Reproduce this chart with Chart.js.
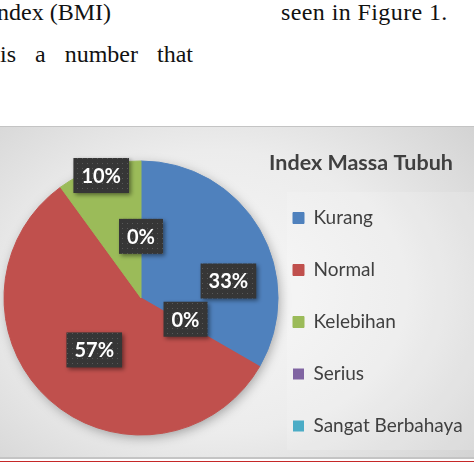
<!DOCTYPE html>
<html lang="id">
<head>
    <meta charset="UTF-8">
    <meta name="viewport" content="width=device-width, initial-scale=1.0">
    <title>Index Massa Tubuh</title>
    <script src="https://cdn.jsdelivr.net/npm/chart.js"></script>
    <style>
        html, body {
            margin: 0;
            padding: 0;
            width: 474px;
            height: 474px;
            overflow: hidden;
            background: #fff;
        }
        /* scanned page text above the figure */
        .doc {
            position: absolute;
            font-family: "Liberation Serif", "Times New Roman", serif;
            font-size: 24px;
            line-height: 24px;
            color: #111;
            white-space: nowrap;
        }
        #line1a { left: -11px; top: 0; }
        #line1b { left: 281px; top: 0; letter-spacing: 0.4px; }
        #line2 { left: 0; top: 42px; word-spacing: 13px; }
        .panel {
            position: absolute;
            left: 0;
            top: 126px;
            width: 474px;
            height: 330px;
            border-top: 1px solid #c4c4c4;
            border-bottom: 2px solid #c4c4c4;
            background: radial-gradient(ellipse 72% 78% at 45% 50%, #f7f7f7 0%, #ececec 55%, #d3d3d3 100%);
        }
        .legend-bg {
            position: absolute;
            left: 287px;
            top: 192px;
            width: 187px;
            height: 258px;
            background: rgba(255, 255, 255, 0.15);
        }
        .redline {
            position: absolute;
            left: 0;
            top: 461px;
            width: 474px;
            height: 1px;
            background: #c62828;
        }
        #bmiChart {
            position: absolute;
            left: 0;
            top: 126px;
        }
    </style>
</head>
<body>
<div class="doc" id="line1a">Index (BMI)</div>
<div class="doc" id="line1b">seen in Figure 1.</div>
<div class="doc" id="line2">is a number that</div>
<div class="panel"></div>
<div class="legend-bg"></div>
<div class="redline"></div>
<canvas id="bmiChart" width="474" height="360"></canvas>

<script>
    const categories = ['Kurang', 'Normal', 'Kelebihan', 'Serius', 'Sangat Berbahaya'];
    const counts = [10, 17, 3, 0, 0];
    const sliceColors = ['#4f81bd', '#c0504d', '#9bbb59', '#8064a2', '#4bacc6'];
    const legendTitle = 'Index Massa Tubuh';

    // where each label box sits: share of the radius, and a turn (deg) away from the slice middle
    const labelSpots = [
        { r: 0.65, turn: 19 },
        { r: 0.51, turn: 0 },
        { r: 0.94, turn: 0 },
        { r: 0.45, turn: 0 },
        { r: 0.36, turn: 115.5 }
    ];

    // soft shadow under the whole pie
    const pieShadow = {
        id: 'pieShadow',
        beforeDatasetsDraw(chart) {
            const arc = chart.getDatasetMeta(0).data[0];
            if (!arc) return;
            const ctx = chart.ctx;
            ctx.save();
            ctx.shadowColor = 'rgba(0, 0, 0, 0.35)';
            ctx.shadowBlur = 12;
            ctx.shadowOffsetX = 2;
            ctx.shadowOffsetY = 3;
            ctx.fillStyle = '#8a8a8a';
            ctx.beginPath();
            ctx.arc(arc.x, arc.y, arc.outerRadius - 1, 0, Math.PI * 2);
            ctx.fill();
            ctx.restore();
        }
    };

    function dotPattern(ctx) {
        const c = document.createElement('canvas');
        c.width = 5;
        c.height = 5;
        const g = c.getContext('2d');
        g.fillStyle = '#363636';
        g.fillRect(0, 0, 5, 5);
        g.fillStyle = '#585858';
        g.fillRect(2, 2, 1, 1);
        return ctx.createPattern(c, 'repeat');
    }

    // dark percent boxes (no datalabels plugin available)
    const boxLabels = {
        id: 'boxLabels',
        afterDatasetsDraw(chart) {
            const ctx = chart.ctx;
            const meta = chart.getDatasetMeta(0);
            const total = counts.reduce((a, b) => a + b, 0);
            const fill = dotPattern(ctx);
            ctx.save();
            ctx.font = 'bold 20px Lato';
            ctx.textAlign = 'center';
            ctx.textBaseline = 'middle';
            meta.data.forEach((arc, i) => {
                const spot = labelSpots[i];
                const a = (arc.startAngle + arc.endAngle) / 2 + spot.turn * Math.PI / 180;
                const cx = arc.x + Math.cos(a) * arc.outerRadius * spot.r;
                const cy = arc.y + Math.sin(a) * arc.outerRadius * spot.r;
                const text = Math.round(counts[i] / total * 100) + '%';
                const w = ctx.measureText(text).width + 16;
                const h = 35;
                ctx.save();
                ctx.shadowColor = 'rgba(0, 0, 0, 0.45)';
                ctx.shadowBlur = 4;
                ctx.shadowOffsetX = 2;
                ctx.shadowOffsetY = 2;
                ctx.fillStyle = fill;
                ctx.fillRect(cx - w / 2, cy - h / 2, w, h);
                ctx.restore();
                ctx.fillStyle = '#fff';
                ctx.fillText(text, cx, cy + 1);
            });
            ctx.restore();
        }
    };

    new Chart(document.getElementById('bmiChart'), {
        type: 'pie',
        data: {
            labels: categories,
            datasets: [{
                data: counts,
                backgroundColor: sliceColors,
                borderColor: sliceColors,
                borderWidth: [1, 1, 1, 0, 0],
                radius: 137,
                clip: false
            }]
        },
        options: {
            responsive: false,
            animation: false,
            layout: {
                padding: { top: 0, bottom: 16, left: 22, right: 12 }
            },
            plugins: {
                tooltip: { enabled: false },
                legend: {
                    position: 'right',
                    align: 'start',
                    maxWidth: 202,
                    title: {
                        display: true,
                        text: legendTitle,
                        color: '#404040',
                        font: { family: 'Lato', size: 21.5, weight: 'bold', lineHeight: 1 },
                        padding: { top: 26.75, bottom: 1.25 }
                    },
                    labels: {
                        boxWidth: 11,
                        boxHeight: 11,
                        padding: 33,
                        color: '#404040',
                        font: { family: 'Lato', size: 19 }
                    }
                }
            }
        },
        plugins: [pieShadow, boxLabels]
    });
</script>
</body>
</html>
